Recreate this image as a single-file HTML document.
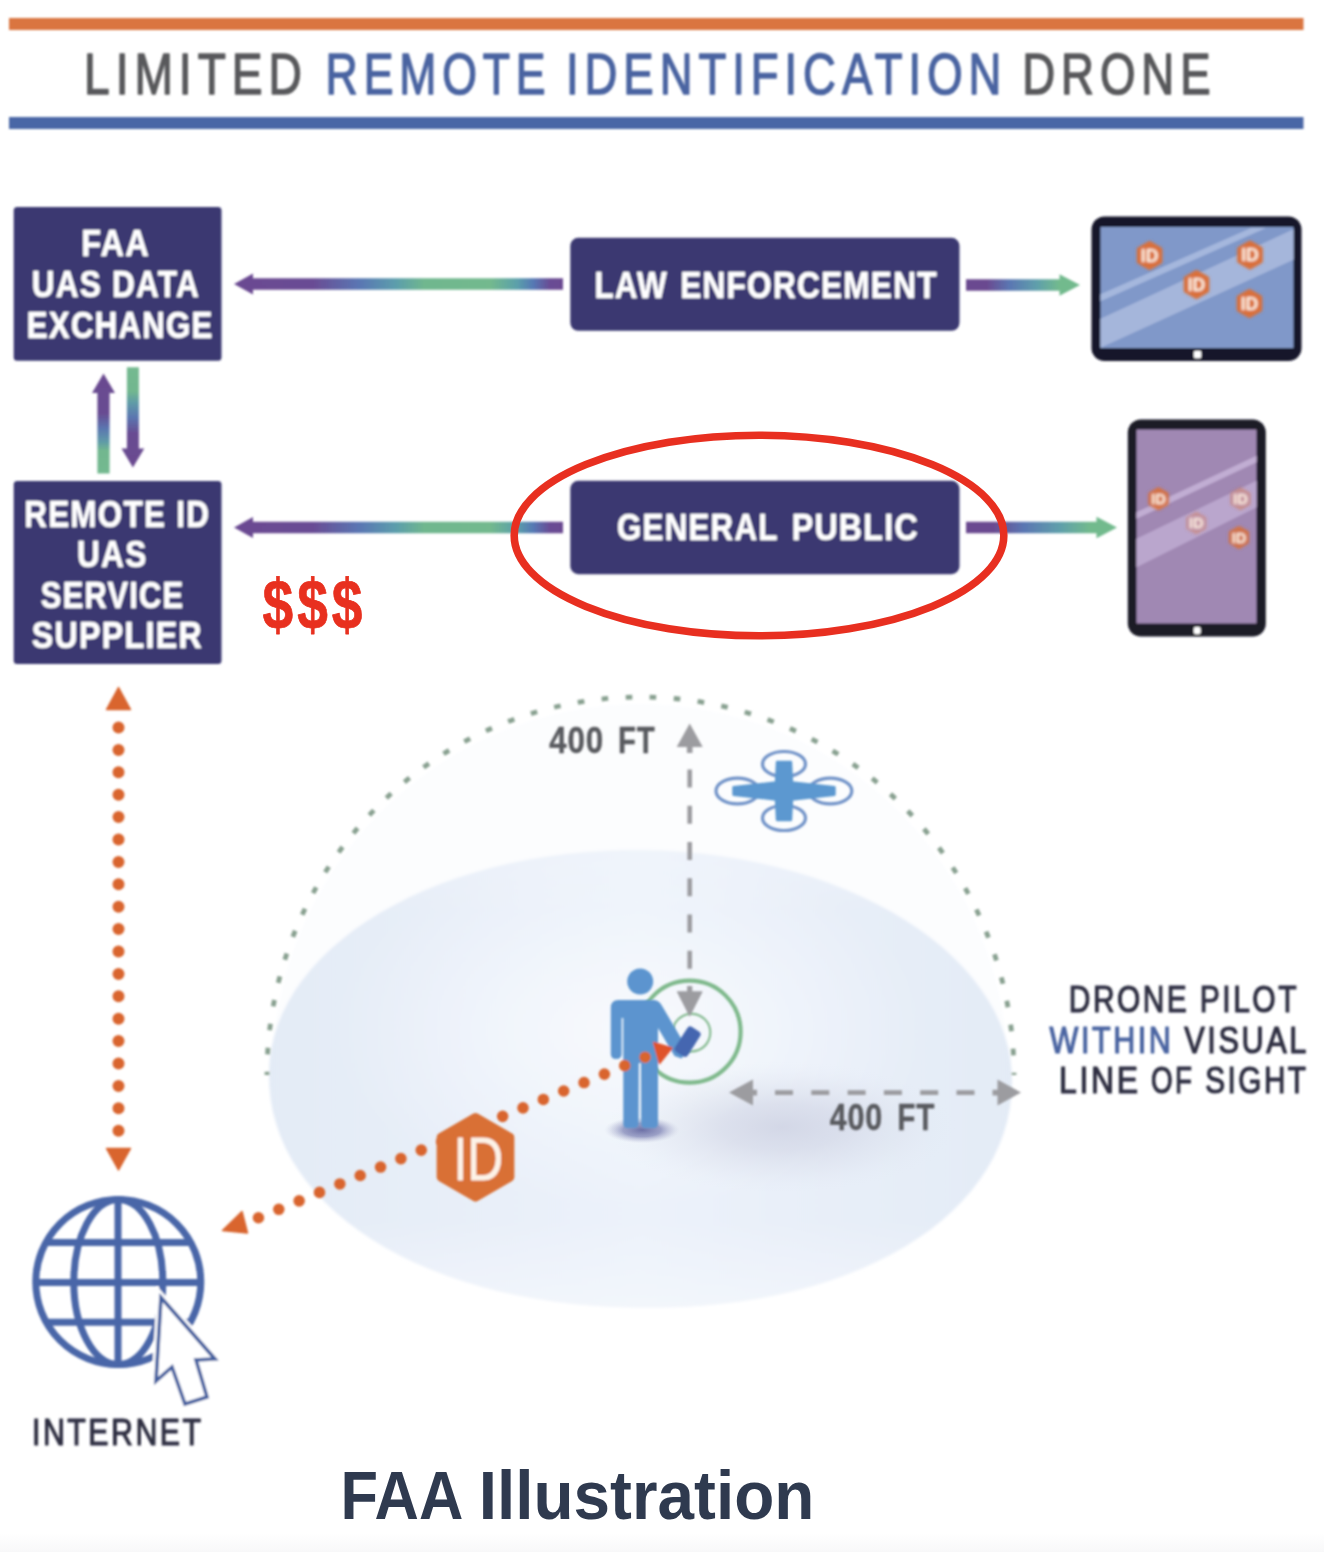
<!DOCTYPE html>
<html lang="en">
<head>
<meta charset="utf-8">
<title>Limited Remote Identification Drone - FAA Illustration</title>
<style>
html,body{margin:0;padding:0;background:#fff;}
body{width:1324px;height:1552px;overflow:hidden;font-family:"Liberation Sans",Arial,sans-serif;}
svg{display:block;}
</style>
</head>
<body>
<svg width="1324" height="1552" viewBox="0 0 1324 1552">
<defs>
  <linearGradient id="gLong" x1="0" y1="0" x2="1" y2="0">
    <stop offset="0" stop-color="#6b4a92"/>
    <stop offset="0.24" stop-color="#694c94"/>
    <stop offset="0.38" stop-color="#5a76b3"/>
    <stop offset="0.49" stop-color="#5b9dac"/>
    <stop offset="0.58" stop-color="#70b78e"/>
    <stop offset="0.78" stop-color="#73b98e"/>
    <stop offset="0.86" stop-color="#5ba0aa"/>
    <stop offset="0.91" stop-color="#5678b4"/>
    <stop offset="0.96" stop-color="#694c94"/>
    <stop offset="1" stop-color="#6b4a92"/>
  </linearGradient>
  <linearGradient id="gShort" x1="0" y1="0" x2="1" y2="0">
    <stop offset="0" stop-color="#6b4a90"/>
    <stop offset="0.18" stop-color="#6b4a90"/>
    <stop offset="0.38" stop-color="#5a76b2"/>
    <stop offset="0.62" stop-color="#5f9fab"/>
    <stop offset="0.82" stop-color="#72ba8d"/>
    <stop offset="1" stop-color="#72ba8d"/>
  </linearGradient>
  <linearGradient id="gUp" x1="0" y1="0" x2="0" y2="1">
    <stop offset="0" stop-color="#6a4a90"/>
    <stop offset="0.40" stop-color="#684c92"/>
    <stop offset="0.55" stop-color="#5a76b0"/>
    <stop offset="0.68" stop-color="#5f9aa8"/>
    <stop offset="0.77" stop-color="#72b78f"/>
    <stop offset="1" stop-color="#74b990"/>
  </linearGradient>
  <linearGradient id="gDown" x1="0" y1="0" x2="0" y2="1">
    <stop offset="0" stop-color="#74b990"/>
    <stop offset="0.24" stop-color="#72b78f"/>
    <stop offset="0.36" stop-color="#5f9aa8"/>
    <stop offset="0.5" stop-color="#5a76b0"/>
    <stop offset="0.66" stop-color="#684c92"/>
    <stop offset="1" stop-color="#6a4a90"/>
  </linearGradient>
  <linearGradient id="gGround" x1="0" y1="0" x2="1" y2="0">
    <stop offset="0" stop-color="#e3ebf6"/>
    <stop offset="0.22" stop-color="#e7eef8"/>
    <stop offset="0.5" stop-color="#ecf2fa"/>
    <stop offset="0.78" stop-color="#e7eef8"/>
    <stop offset="1" stop-color="#e3ebf6"/>
  </linearGradient>
  <radialGradient id="gGlow" cx="0.5" cy="0.5" r="0.5">
    <stop offset="0" stop-color="#fbfcfe" stop-opacity="0.75"/>
    <stop offset="0.4" stop-color="#fafbfe" stop-opacity="0.5"/>
    <stop offset="0.75" stop-color="#f8fafd" stop-opacity="0.2"/>
    <stop offset="1" stop-color="#f8fafd" stop-opacity="0"/>
  </radialGradient>
  <linearGradient id="gTopFade" x1="0" y1="0" x2="0" y2="1">
    <stop offset="0" stop-color="#f9fafd" stop-opacity="0.3"/>
    <stop offset="1" stop-color="#f9fafd" stop-opacity="0"/>
  </linearGradient>
  <linearGradient id="gBotFade" x1="0" y1="0" x2="0" y2="1">
    <stop offset="0" stop-color="#f6f8fc" stop-opacity="0"/>
    <stop offset="1" stop-color="#f6f8fc" stop-opacity="0.7"/>
  </linearGradient>
  <radialGradient id="gShadow" cx="0.5" cy="0.5" r="0.5">
    <stop offset="0" stop-color="#c8ccde" stop-opacity="0.7"/>
    <stop offset="0.35" stop-color="#cdd1e2" stop-opacity="0.54"/>
    <stop offset="0.7" stop-color="#d6dae8" stop-opacity="0.24"/>
    <stop offset="1" stop-color="#e4eaf5" stop-opacity="0"/>
  </radialGradient>
  <radialGradient id="gFoot" cx="0.5" cy="0.5" r="0.5">
    <stop offset="0" stop-color="#666aa2" stop-opacity="0.95"/>
    <stop offset="0.5" stop-color="#8085b6" stop-opacity="0.75"/>
    <stop offset="0.8" stop-color="#b0b4d2" stop-opacity="0.35"/>
    <stop offset="1" stop-color="#d5d9e8" stop-opacity="0"/>
  </radialGradient>
  <linearGradient id="gBottom" x1="0" y1="0" x2="0" y2="1">
    <stop offset="0" stop-color="#ffffff"/>
    <stop offset="1" stop-color="#f8f8f9"/>
  </linearGradient>
  <filter id="soft" x="-5%" y="-5%" width="110%" height="110%"><feGaussianBlur stdDeviation="1"/></filter>
  <filter id="soft15" x="-5%" y="-5%" width="110%" height="110%"><feGaussianBlur stdDeviation="1.5"/></filter>
  <filter id="soft2" x="-10%" y="-10%" width="120%" height="120%"><feGaussianBlur stdDeviation="3"/></filter>
  <clipPath id="scr1"><rect x="1100.5" y="227" width="193" height="121"/></clipPath>
  <clipPath id="scr2"><rect x="1136.5" y="429.5" width="120" height="194"/></clipPath>
</defs>
<rect x="0" y="0" width="1324" height="1552" fill="#ffffff"/>
<rect x="0" y="1533" width="1324" height="19" fill="url(#gBottom)"/>

<g filter="url(#soft)">
<rect x="9" y="18" width="1294.5" height="12" fill="#da7540"/>
<rect x="9" y="117" width="1294.5" height="12" fill="#4a66a6"/>
<text font-family='"Liberation Sans", Arial, sans-serif' font-size="57.6" font-weight="normal" style="letter-spacing:7.5px" ><tspan x="84.0" y="94.0" textLength="223.87" lengthAdjust="spacingAndGlyphs" fill="#58595b" stroke="#58595b" stroke-width="1.5" stroke-linejoin="round">LIMITED</tspan> <tspan x="325.6" y="94.0" textLength="225.78" lengthAdjust="spacingAndGlyphs" fill="#4a64a1" stroke="#4a64a1" stroke-width="1.5" stroke-linejoin="round">REMOTE</tspan> <tspan x="565.99" y="94.0" textLength="441.32" lengthAdjust="spacingAndGlyphs" fill="#4a64a1" stroke="#4a64a1" stroke-width="1.5" stroke-linejoin="round">IDENTIFICATION</tspan> <tspan x="1022.13" y="94.0" textLength="194.5" lengthAdjust="spacingAndGlyphs" fill="#58595b" stroke="#58595b" stroke-width="1.5" stroke-linejoin="round">DRONE</tspan></text>
<rect x="13.7" y="207" width="207.8" height="153.7" rx="3.5" fill="#3a3971"/>
<rect x="13.7" y="481" width="207.8" height="183" rx="3.5" fill="#3a3971"/>
<rect x="570.3" y="237.8" width="389.2" height="93" rx="8" fill="#3a3971"/>
<rect x="570.3" y="480.8" width="389.2" height="93.4" rx="8" fill="#3a3971"/>
<text font-family='"Liberation Sans", Arial, sans-serif' font-size="37.0" font-weight="bold" style="letter-spacing:1.5px" ><tspan x="81.26" y="255.5" textLength="67.68" lengthAdjust="spacingAndGlyphs" fill="#ffffff" stroke="#ffffff" stroke-width="0.6" stroke-linejoin="round">FAA</tspan> <tspan x="31.66" y="296.5" textLength="167.23" lengthAdjust="spacingAndGlyphs" fill="#ffffff" stroke="#ffffff" stroke-width="0.6" stroke-linejoin="round">UAS DATA</tspan> <tspan x="26.8" y="337.5" textLength="186.77" lengthAdjust="spacingAndGlyphs" fill="#ffffff" stroke="#ffffff" stroke-width="0.6" stroke-linejoin="round">EXCHANGE</tspan></text>
<text font-family='"Liberation Sans", Arial, sans-serif' font-size="37.0" font-weight="bold" style="letter-spacing:1.5px" ><tspan x="24.19" y="526.5" textLength="185.9" lengthAdjust="spacingAndGlyphs" fill="#ffffff" stroke="#ffffff" stroke-width="0.6" stroke-linejoin="round">REMOTE ID</tspan> <tspan x="76.99" y="566.9" textLength="70.55" lengthAdjust="spacingAndGlyphs" fill="#ffffff" stroke="#ffffff" stroke-width="0.6" stroke-linejoin="round">UAS</tspan> <tspan x="40.87" y="607.5" textLength="143.54" lengthAdjust="spacingAndGlyphs" fill="#ffffff" stroke="#ffffff" stroke-width="0.6" stroke-linejoin="round">SERVICE</tspan> <tspan x="31.75" y="647.7" textLength="171.33" lengthAdjust="spacingAndGlyphs" fill="#ffffff" stroke="#ffffff" stroke-width="0.6" stroke-linejoin="round">SUPPLIER</tspan></text>
<text font-family='"Liberation Sans", Arial, sans-serif' font-size="37.3" font-weight="bold" style="letter-spacing:1.5px" ><tspan x="594.4" y="297.5" textLength="73.64" lengthAdjust="spacingAndGlyphs" fill="#ffffff" stroke="#ffffff" stroke-width="0.6" stroke-linejoin="round">LAW</tspan> <tspan x="680.2" y="297.5" textLength="257.59" lengthAdjust="spacingAndGlyphs" fill="#ffffff" stroke="#ffffff" stroke-width="0.6" stroke-linejoin="round">ENFORCEMENT</tspan></text>
<text font-family='"Liberation Sans", Arial, sans-serif' font-size="37.3" font-weight="bold" style="letter-spacing:1.5px" ><tspan x="616.96" y="539.5" textLength="161.12" lengthAdjust="spacingAndGlyphs" fill="#ffffff" stroke="#ffffff" stroke-width="0.6" stroke-linejoin="round">GENERAL</tspan> <tspan x="791.66" y="539.5" textLength="127.34" lengthAdjust="spacingAndGlyphs" fill="#ffffff" stroke="#ffffff" stroke-width="0.6" stroke-linejoin="round">PUBLIC</tspan></text>
<path d="M234 284 L253 273.5 L253 278.2 L563 278.2 L563 289.8 L253 289.8 L253 294.5 Z" fill="url(#gLong)"/>
<path d="M234 527.5 L253 517.0 L253 521.7 L563 521.7 L563 533.3 L253 533.3 L253 538.0 Z" fill="url(#gLong)"/>
<path d="M966 279.2 L1059.5 279.2 L1059.5 274.2 L1080 285 L1059.5 295.8 L1059.5 290.8 L966 290.8 Z" fill="url(#gShort)"/>
<path d="M966 521.7 L1096.5 521.7 L1096.5 516.7 L1117 527.5 L1096.5 538.3 L1096.5 533.3 L966 533.3 Z" fill="url(#gShort)"/>
<path d="M103.5 373.5 L115 393 L109.6 393 L109.6 473.5 L97.4 473.5 L97.4 393 L92 393 Z" fill="url(#gUp)"/>
<path d="M126.9 367.3 L138.9 367.3 L138.9 448.5 L144.3 448.5 L132.9 467.5 L121.5 448.5 L126.9 448.5 Z" fill="url(#gDown)"/>
</g>
<g filter="url(#soft)">
<rect x="1091.5" y="216.5" width="210" height="144.5" rx="13" fill="#17172b"/>
<rect x="1100.5" y="227" width="193" height="121" fill="#8098c9"/>
<g clip-path="url(#scr1)">
<path d="M1100 294.5 L1251 228 L1266 228 L1100 301.5 Z" fill="#a6b8de" opacity="0.95"/>
<path d="M1100 319 L1294 229 L1294 259.5 L1100 348 Z" fill="#a9b9dd" opacity="0.9"/>
</g>
<rect x="1193.8" y="350.8" width="7.5" height="7.5" rx="1.8" fill="#ffffff"/>
<rect x="1127.8" y="419.5" width="138" height="217" rx="13" fill="#1b1a27"/>
<rect x="1136.5" y="429.5" width="120" height="194" fill="#a088b3"/>
<g clip-path="url(#scr2)">
<path d="M1136 512.5 L1257 455.5 L1257 462 L1136 519 Z" fill="#c3afd5" opacity="0.95"/>
<path d="M1136 539 L1257 480.5 L1257 507 L1136 567.5 Z" fill="#bca8cf" opacity="0.95"/>
</g>
<rect x="1193.7" y="627" width="7" height="7" rx="1.8" fill="#ffffff"/>
</g>
<g filter="url(#soft15)">
<polygon points="1149.6,243.1 1160.4,249.3 1160.4,261.8 1149.6,268.1 1138.8,261.8 1138.8,249.3" fill="#d9703a" opacity="1.0" stroke="#d9703a" stroke-width="4" stroke-linejoin="round"/>
<text x="1149.6" y="261.9" text-anchor="middle" font-family='"Liberation Sans", Arial, sans-serif' font-size="17.5" font-weight="bold" fill="#fff3e6" opacity="1.0">ID</text>
<polygon points="1250.0,242.5 1260.8,248.8 1260.8,261.2 1250.0,267.5 1239.2,261.2 1239.2,248.8" fill="#d9703a" opacity="1.0" stroke="#d9703a" stroke-width="4" stroke-linejoin="round"/>
<text x="1250" y="261.3" text-anchor="middle" font-family='"Liberation Sans", Arial, sans-serif' font-size="17.5" font-weight="bold" fill="#fff3e6" opacity="1.0">ID</text>
<polygon points="1196.5,272.0 1207.3,278.2 1207.3,290.8 1196.5,297.0 1185.7,290.8 1185.7,278.2" fill="#d9703a" opacity="1.0" stroke="#d9703a" stroke-width="4" stroke-linejoin="round"/>
<text x="1196.5" y="290.8" text-anchor="middle" font-family='"Liberation Sans", Arial, sans-serif' font-size="17.5" font-weight="bold" fill="#fff3e6" opacity="1.0">ID</text>
<polygon points="1249.5,291.0 1260.3,297.2 1260.3,309.8 1249.5,316.0 1238.7,309.8 1238.7,297.2" fill="#d9703a" opacity="1.0" stroke="#d9703a" stroke-width="4" stroke-linejoin="round"/>
<text x="1249.5" y="309.8" text-anchor="middle" font-family='"Liberation Sans", Arial, sans-serif' font-size="17.5" font-weight="bold" fill="#fff3e6" opacity="1.0">ID</text>
<polygon points="1158.5,489.3 1166.7,494.1 1166.7,503.6 1158.5,508.3 1150.3,503.6 1150.3,494.1" fill="#d9703a" opacity="0.9" stroke="#d9703a" stroke-width="4" stroke-linejoin="round"/>
<text x="1158.5" y="504.0" text-anchor="middle" font-family='"Liberation Sans", Arial, sans-serif' font-size="14.5" font-weight="bold" fill="#fff0e0" opacity="1.0">ID</text>
<polygon points="1240.5,489.3 1248.7,494.1 1248.7,503.6 1240.5,508.3 1232.3,503.6 1232.3,494.1" fill="#d9703a" opacity="0.4" stroke="#d9703a" stroke-width="4" stroke-linejoin="round"/>
<text x="1240.5" y="504.0" text-anchor="middle" font-family='"Liberation Sans", Arial, sans-serif' font-size="14.5" font-weight="bold" fill="#fff0e0" opacity="1.0">ID</text>
<polygon points="1196.3,513.5 1204.5,518.2 1204.5,527.8 1196.3,532.5 1188.1,527.8 1188.1,518.2" fill="#d9703a" opacity="0.35" stroke="#d9703a" stroke-width="4" stroke-linejoin="round"/>
<text x="1196.3" y="528.2" text-anchor="middle" font-family='"Liberation Sans", Arial, sans-serif' font-size="14.5" font-weight="bold" fill="#fff0e0" opacity="1.0">ID</text>
<polygon points="1239.0,527.9 1247.2,532.6 1247.2,542.1 1239.0,546.9 1230.8,542.1 1230.8,532.6" fill="#d9703a" opacity="0.85" stroke="#d9703a" stroke-width="4" stroke-linejoin="round"/>
<text x="1239" y="542.6" text-anchor="middle" font-family='"Liberation Sans", Arial, sans-serif' font-size="14.5" font-weight="bold" fill="#fff0e0" opacity="1.0">ID</text>
</g>
<ellipse cx="759" cy="535.5" rx="244.8" ry="100.3" fill="none" stroke="#e82f20" stroke-width="7.6"/>
<text font-family='"Liberation Sans", Arial, sans-serif' font-size="70.0" font-weight="bold" style="letter-spacing:5.0px" ><tspan x="262.61" y="628.7" textLength="103.76" lengthAdjust="spacingAndGlyphs" fill="#e8301f" stroke="#e8301f" stroke-width="0.8" stroke-linejoin="round">$$$</tspan></text>
<g filter="url(#soft15)">
<path d="M272 1075 A368 371 0 0 1 1008 1075 Z" fill="#fcfdfe"/>
<clipPath id="gclip2"><path d="M1012.0 1082.2 L1011.3 1096.1 L1009.7 1109.0 L1007.1 1121.5 L1003.5 1133.7 L999.0 1145.6 L993.6 1157.3 L987.2 1168.6 L979.9 1179.6 L971.8 1190.3 L962.7 1200.6 L952.9 1210.6 L942.1 1220.2 L930.6 1229.4 L918.3 1238.1 L905.2 1246.4 L891.4 1254.3 L877.0 1261.6 L861.8 1268.5 L846.0 1274.8 L829.7 1280.7 L812.7 1285.9 L795.2 1290.7 L777.3 1294.8 L758.8 1298.4 L739.9 1301.4 L720.6 1303.8 L700.8 1305.7 L680.5 1306.9 L659.7 1307.5 L637.3 1307.5 L614.9 1306.9 L594.1 1305.7 L573.8 1303.9 L554.1 1301.5 L534.9 1298.6 L516.0 1295.0 L497.7 1290.9 L479.8 1286.3 L462.5 1281.0 L445.7 1275.3 L429.5 1269.0 L413.9 1262.2 L399.0 1254.9 L384.7 1247.2 L371.2 1239.0 L358.3 1230.3 L346.3 1221.2 L335.0 1211.7 L324.5 1201.8 L314.9 1191.6 L306.2 1181.0 L298.3 1170.1 L291.4 1158.9 L285.3 1147.4 L280.2 1135.6 L276.1 1123.6 L272.8 1111.3 L270.6 1098.7 L269.3 1085.7 L269.0 1071.8 L269.7 1059.9 L271.4 1048.1 L274.1 1036.4 L277.8 1024.7 L282.5 1013.2 L288.2 1001.9 L294.8 990.8 L302.4 979.9 L311.0 969.3 L320.4 959.0 L330.7 949.0 L341.8 939.4 L353.8 930.1 L366.6 921.3 L380.1 912.8 L394.3 904.9 L409.2 897.3 L424.7 890.3 L440.8 883.8 L457.5 877.8 L474.7 872.4 L492.3 867.5 L510.3 863.2 L528.7 859.5 L547.4 856.4 L566.4 853.9 L585.5 852.0 L604.8 850.7 L624.2 850.1 L643.7 850.0 L663.1 850.6 L682.5 851.8 L701.7 853.6 L720.8 856.1 L739.7 859.1 L758.3 862.7 L776.6 867.0 L794.5 871.8 L812.0 877.1 L829.0 883.0 L845.5 889.5 L861.4 896.4 L876.7 903.9 L891.4 911.8 L905.4 920.2 L918.7 929.0 L931.2 938.2 L942.9 947.8 L953.8 957.7 L963.8 968.0 L972.9 978.6 L981.1 989.4 L988.4 1000.5 L994.8 1011.8 L1000.1 1023.3 L1004.5 1034.9 L1007.9 1046.6 L1010.3 1058.4 L1011.6 1070.3 Z"/></clipPath>
<path d="M1012.0 1082.2 L1011.3 1096.1 L1009.7 1109.0 L1007.1 1121.5 L1003.5 1133.7 L999.0 1145.6 L993.6 1157.3 L987.2 1168.6 L979.9 1179.6 L971.8 1190.3 L962.7 1200.6 L952.9 1210.6 L942.1 1220.2 L930.6 1229.4 L918.3 1238.1 L905.2 1246.4 L891.4 1254.3 L877.0 1261.6 L861.8 1268.5 L846.0 1274.8 L829.7 1280.7 L812.7 1285.9 L795.2 1290.7 L777.3 1294.8 L758.8 1298.4 L739.9 1301.4 L720.6 1303.8 L700.8 1305.7 L680.5 1306.9 L659.7 1307.5 L637.3 1307.5 L614.9 1306.9 L594.1 1305.7 L573.8 1303.9 L554.1 1301.5 L534.9 1298.6 L516.0 1295.0 L497.7 1290.9 L479.8 1286.3 L462.5 1281.0 L445.7 1275.3 L429.5 1269.0 L413.9 1262.2 L399.0 1254.9 L384.7 1247.2 L371.2 1239.0 L358.3 1230.3 L346.3 1221.2 L335.0 1211.7 L324.5 1201.8 L314.9 1191.6 L306.2 1181.0 L298.3 1170.1 L291.4 1158.9 L285.3 1147.4 L280.2 1135.6 L276.1 1123.6 L272.8 1111.3 L270.6 1098.7 L269.3 1085.7 L269.0 1071.8 L269.7 1059.9 L271.4 1048.1 L274.1 1036.4 L277.8 1024.7 L282.5 1013.2 L288.2 1001.9 L294.8 990.8 L302.4 979.9 L311.0 969.3 L320.4 959.0 L330.7 949.0 L341.8 939.4 L353.8 930.1 L366.6 921.3 L380.1 912.8 L394.3 904.9 L409.2 897.3 L424.7 890.3 L440.8 883.8 L457.5 877.8 L474.7 872.4 L492.3 867.5 L510.3 863.2 L528.7 859.5 L547.4 856.4 L566.4 853.9 L585.5 852.0 L604.8 850.7 L624.2 850.1 L643.7 850.0 L663.1 850.6 L682.5 851.8 L701.7 853.6 L720.8 856.1 L739.7 859.1 L758.3 862.7 L776.6 867.0 L794.5 871.8 L812.0 877.1 L829.0 883.0 L845.5 889.5 L861.4 896.4 L876.7 903.9 L891.4 911.8 L905.4 920.2 L918.7 929.0 L931.2 938.2 L942.9 947.8 L953.8 957.7 L963.8 968.0 L972.9 978.6 L981.1 989.4 L988.4 1000.5 L994.8 1011.8 L1000.1 1023.3 L1004.5 1034.9 L1007.9 1046.6 L1010.3 1058.4 L1011.6 1070.3 Z" fill="url(#gGround)"/>
<g clip-path="url(#gclip2)">
<ellipse cx="630" cy="1030" rx="300" ry="180" fill="url(#gGlow)"/>
<rect x="260" y="845" width="760" height="70" fill="url(#gTopFade)"/>
<rect x="260" y="1220" width="760" height="95" fill="url(#gBotFade)"/>
</g>
</g>
<g clip-path="url(#gclip2)"><ellipse cx="782" cy="1127" rx="175" ry="66" fill="url(#gShadow)"/></g>
<g filter="url(#soft)">
<path d="M267 1075 A373.5 378 0 0 1 1014 1075" fill="none" stroke="#88a090" stroke-width="4.8" stroke-dasharray="6.6 17.5" stroke-dashoffset="3.3"/>
</g>
<g filter="url(#soft)">
<path d="M689.7 769.5 L689.7 972" stroke="#9c9ca0" stroke-width="4.6" stroke-dasharray="18 18.25" fill="none"/>
<path d="M689.7 723.5 L702.7 747 L692.5 747 L692.5 753 L686.9 753 L686.9 747 L676.7 747 Z" fill="#9c9ca0"/>
<path d="M689.7 1016.5 L702.5 991.5 L692.3 991.5 L692.3 986 L687.1 986 L687.1 991.5 L676.9 991.5 Z" fill="#9c9ca0"/>
<path d="M775 1092.6 L985 1092.6" stroke="#9c9ca0" stroke-width="4.8" stroke-dasharray="18 18.3" fill="none"/>
<path d="M729 1092.6 L753 1079.6 L753 1089.8 L757 1089.8 L757 1095.4 L753 1095.4 L753 1105.6 Z" fill="#9c9ca0"/>
<path d="M1021 1092.6 L997.5 1079.6 L997.5 1089.8 L992.5 1089.8 L992.5 1095.4 L997.5 1095.4 L997.5 1105.6 Z" fill="#9c9ca0"/>
<text font-family='"Liberation Sans", Arial, sans-serif' font-size="37.0" font-weight="bold" style="letter-spacing:1.0px" ><tspan x="549.19" y="753.0" textLength="54.8" lengthAdjust="spacingAndGlyphs" fill="#595a5e" stroke="#595a5e" stroke-width="0.4" stroke-linejoin="round">400</tspan> <tspan x="617.91" y="753.0" textLength="37.55" lengthAdjust="spacingAndGlyphs" fill="#595a5e" stroke="#595a5e" stroke-width="0.4" stroke-linejoin="round">FT</tspan></text>
<text font-family='"Liberation Sans", Arial, sans-serif' font-size="36.5" font-weight="bold" style="letter-spacing:1.0px" ><tspan x="829.74" y="1130.3" textLength="53.42" lengthAdjust="spacingAndGlyphs" fill="#595a5e" stroke="#595a5e" stroke-width="0.4" stroke-linejoin="round">400</tspan> <tspan x="897.27" y="1130.3" textLength="37.92" lengthAdjust="spacingAndGlyphs" fill="#595a5e" stroke="#595a5e" stroke-width="0.4" stroke-linejoin="round">FT</tspan></text>
<g fill="none" stroke="#6f92c8" stroke-width="3.2">
<ellipse cx="784" cy="764" rx="21.5" ry="12.5"/>
<ellipse cx="784" cy="818" rx="21.5" ry="12.5"/>
<ellipse cx="737.5" cy="791" rx="21.5" ry="12.8"/>
<ellipse cx="830.3" cy="791" rx="21.5" ry="12.8"/>
</g>
<path d="M777 762 L791 762 L792 782.5 L834.5 787.2 L834.5 794.8 L792 799.5 L791 820 L777 820 L776 799.5 L733.5 794.8 L733.5 787.2 L776 782.5 Z" fill="#5b98d0" stroke="#5b98d0" stroke-width="2.4" stroke-linejoin="round"/>
<circle cx="689.6" cy="1031.7" r="51" fill="none" stroke="#7fb98c" stroke-width="4.2"/>
<circle cx="691.5" cy="1032.6" r="18.8" fill="none" stroke="#86bb92" stroke-width="2.2"/>
<path d="M689.7 1016.5 L702.5 991.5 L676.9 991.5 Z" fill="#9c9ca0"/>
</g>
<ellipse cx="642" cy="1130" rx="38" ry="13.5" fill="url(#gFoot)"/>
<g filter="url(#soft)">
<circle cx="640.2" cy="981.5" r="13" fill="#5b94cf"/>
<path d="M618.5 1000 L654 1000 Q659 1000.5 661.5 1005 L688 1050 L681.5 1058.5 L674.5 1056 L658 1028 L658 1123.5 Q658 1128 653.5 1128 L645.5 1128 Q641.2 1128 641.2 1123.5 L641 1063 L638.8 1063 L638.6 1123.5 Q638.6 1128 634 1128 L627.5 1128 Q623.3 1128 623.3 1123.5 L623.3 1018 L621.6 1018 L621.6 1054 Q621.6 1059 616.2 1059 Q610.8 1059 610.8 1054 L610.8 1008 Q610.8 1000 618.5 1000 Z" fill="#5b94cf"/>
<rect x="680" y="1027" width="15.2" height="29.4" rx="3.5" transform="rotate(32.5 687.6 1041.7)" fill="#4466b0"/>
<path d="M118.5 727.5 L118.5 1132" stroke="#d9652f" stroke-width="12" stroke-linecap="round" stroke-dasharray="0 22.4" fill="none"/>
<path d="M118.5 687.5 L130.5 709.5 L106.5 709.5 Z" fill="#d9652f" stroke="#d9652f" stroke-width="1.5" stroke-linejoin="round"/>
<path d="M118.5 1170 L130.5 1148.5 L106.5 1148.5 Z" fill="#d9652f" stroke="#d9652f" stroke-width="1.5" stroke-linejoin="round"/>
<path d="M645.1 1057.2 L258.2 1217.85" stroke="#d9652f" stroke-width="11.6" stroke-linecap="round" stroke-dasharray="0 22.035" fill="none"/>
<path d="M222.5 1230.5 L242 1211.5 L247.5 1233 Z" fill="#d9652f" stroke="#d9652f" stroke-width="1.5" stroke-linejoin="round"/>
<path d="M672 1048 L653.6 1042.5 L659.5 1063.5 Z" fill="#e0532c" stroke="#e0532c" stroke-width="1.5" stroke-linejoin="round"/>
<polygon points="475.5,1117.3 510.1,1137.3 510.1,1177.3 475.5,1197.3 440.9,1177.3 440.9,1137.3" fill="#d96f35" stroke="#d96f35" stroke-width="8.5" stroke-linejoin="round"/>
<text font-family='"Liberation Sans", Arial, sans-serif' font-size="61.5" font-weight="normal" ><tspan x="453.46" y="1179.5" textLength="49.66" lengthAdjust="spacingAndGlyphs" fill="#fdf3e8" stroke="#fdf3e8" stroke-width="0.9" stroke-linejoin="round">ID</tspan></text>
<g fill="none" stroke="#4a66a8" stroke-width="7">
<circle cx="118.3" cy="1282" r="82.5"/>
<ellipse cx="118.3" cy="1282" rx="44.5" ry="82.5"/>
<path d="M118 1199.5 L118 1364.5"/>
<path d="M36 1282.6 L201 1282.6"/>
<path d="M47.5 1242.5 L189.5 1242.5"/>
<path d="M47.5 1322.3 L189.5 1322.3"/>
</g>
<path d="M161 1297.5 L215 1359 L196 1360 L207 1397 L185 1404 L172 1367 L156 1381 Z" fill="#ffffff" stroke="#ffffff" stroke-width="9" stroke-linejoin="miter"/>
<path d="M161 1297.5 L215 1359 L196 1360 L207 1397 L185 1404 L172 1367 L156 1381 Z" fill="#ffffff" stroke="#435e9f" stroke-width="3.6" stroke-linejoin="miter"/>
<text font-family='"Liberation Sans", Arial, sans-serif' font-size="36.2" font-weight="normal" style="letter-spacing:3.0px" ><tspan x="32.0" y="1444.6" textLength="171.57" lengthAdjust="spacingAndGlyphs" fill="#2e2f42" stroke="#2e2f42" stroke-width="1.2" stroke-linejoin="round">INTERNET</tspan></text>
<text font-family='"Liberation Sans", Arial, sans-serif' font-size="36.0" font-weight="normal" style="letter-spacing:3.0px" ><tspan x="1068.83" y="1012.4" textLength="120.4" lengthAdjust="spacingAndGlyphs" fill="#2e2f42" stroke="#2e2f42" stroke-width="1.2" stroke-linejoin="round">DRONE</tspan> <tspan x="1199.83" y="1012.4" textLength="98.69" lengthAdjust="spacingAndGlyphs" fill="#2e2f42" stroke="#2e2f42" stroke-width="1.2" stroke-linejoin="round">PILOT</tspan> <tspan x="1049.62" y="1052.5" textLength="123.7" lengthAdjust="spacingAndGlyphs" fill="#4a64a1" stroke="#4a64a1" stroke-width="1.2" stroke-linejoin="round">WITHIN</tspan> <tspan x="1184.32" y="1052.5" textLength="123.39" lengthAdjust="spacingAndGlyphs" fill="#2e2f42" stroke="#2e2f42" stroke-width="1.2" stroke-linejoin="round">VISUAL</tspan> <tspan x="1059.11" y="1093.2" textLength="81.47" lengthAdjust="spacingAndGlyphs" fill="#2e2f42" stroke="#2e2f42" stroke-width="1.2" stroke-linejoin="round">LINE</tspan> <tspan x="1150.93" y="1093.2" textLength="43.27" lengthAdjust="spacingAndGlyphs" fill="#2e2f42" stroke="#2e2f42" stroke-width="1.2" stroke-linejoin="round">OF</tspan> <tspan x="1205.27" y="1093.2" textLength="103.22" lengthAdjust="spacingAndGlyphs" fill="#2e2f42" stroke="#2e2f42" stroke-width="1.2" stroke-linejoin="round">SIGHT</tspan></text>
</g>
<text font-family='"Liberation Sans", Arial, sans-serif' font-size="68.8" font-weight="bold" ><tspan x="340.46" y="1518.7" textLength="120.56" lengthAdjust="spacingAndGlyphs" fill="#2f3a4f">FAA</tspan> <tspan x="478.71" y="1518.7" textLength="335.66" lengthAdjust="spacingAndGlyphs" fill="#2f3a4f">Illustration</tspan></text>
</svg>
</body>
</html>
